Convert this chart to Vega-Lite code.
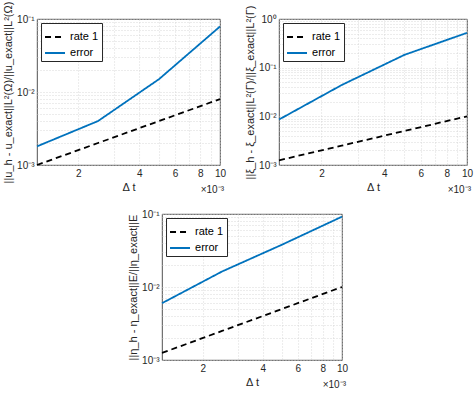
{
  "$schema": "https://vega.github.io/schema/vega-lite/v6.json",
  "padding": {"left": 2, "top": 0, "right": 4, "bottom": 0},
  "data": {"values": [
    {"panel": 1, "series": "rate 1", "dt": 1.25, "err": 0.001},
    {"panel": 1, "series": "rate 1", "dt": 2.5, "err": 0.002},
    {"panel": 1, "series": "rate 1", "dt": 5, "err": 0.004},
    {"panel": 1, "series": "rate 1", "dt": 10, "err": 0.008},
    {"panel": 1, "series": "error", "dt": 1.25, "err": 0.0018},
    {"panel": 1, "series": "error", "dt": 2.5, "err": 0.004},
    {"panel": 1, "series": "error", "dt": 5, "err": 0.015},
    {"panel": 1, "series": "error", "dt": 10, "err": 0.079},
    {"panel": 2, "series": "rate 1", "dt": 1.25, "err": 0.00125},
    {"panel": 2, "series": "rate 1", "dt": 2.5, "err": 0.0025},
    {"panel": 2, "series": "rate 1", "dt": 5, "err": 0.005},
    {"panel": 2, "series": "rate 1", "dt": 10, "err": 0.01},
    {"panel": 2, "series": "error", "dt": 1.25, "err": 0.0086},
    {"panel": 2, "series": "error", "dt": 2.5, "err": 0.044},
    {"panel": 2, "series": "error", "dt": 5, "err": 0.183},
    {"panel": 2, "series": "error", "dt": 10, "err": 0.52},
    {"panel": 3, "series": "rate 1", "dt": 1.25, "err": 0.00125},
    {"panel": 3, "series": "rate 1", "dt": 2.5, "err": 0.0025},
    {"panel": 3, "series": "rate 1", "dt": 5, "err": 0.005},
    {"panel": 3, "series": "rate 1", "dt": 10, "err": 0.01},
    {"panel": 3, "series": "error", "dt": 1.25, "err": 0.006},
    {"panel": 3, "series": "error", "dt": 2.5, "err": 0.0163},
    {"panel": 3, "series": "error", "dt": 5, "err": 0.038},
    {"panel": 3, "series": "error", "dt": 10, "err": 0.092}
  ]},
  "vconcat": [
    {
      "hconcat": [
        {
          "width": 183, "height": 146,
          "layer": [
            {
              "transform": [{"filter": "datum.panel == 1"}],
              "mark": {"type": "line", "strokeWidth": 1.8},
              "encoding": {
                "x": {"field": "dt", "type": "quantitative", "scale": {"type": "log", "domain": [1.25, 10], "nice": false},
                      "axis": {"title": "Δ t", "values": [2,3,4,5,6,7,8,9,10], "labelExpr": "datum.value % 2 == 0 ? datum.value : ''"}},
                "y": {"field": "err", "type": "quantitative", "scale": {"type": "log", "domain": [0.001, 0.1], "nice": false},
                      "axis": {"title": "||u_h - u_exact||L²(Ω)/||u_exact||L²(Ω)",
                               "values": [0.001,0.002,0.003,0.004,0.005,0.006,0.007,0.008,0.009,0.01,0.02,0.03,0.04,0.05,0.06,0.07,0.08,0.09,0.1],
                               "labelExpr": "datum.value == 0.001 ? '10⁻³' : datum.value == 0.01 ? '10⁻²' : datum.value == 0.1 ? '10⁻¹' : datum.value == 1 ? '10⁰' : ''"}},
                "color": {"field": "series", "type": "nominal", "scale": {"domain": ["rate 1", "error"], "range": ["#000000", "#0072BD"]}, "legend": {"title": null}},
                "strokeDash": {"field": "series", "type": "nominal", "scale": {"domain": ["rate 1", "error"], "range": [[6, 4], [1, 0]]}, "legend": {"title": null}}
              }
            },
            {
              "data": {"values": [{"label": "×10⁻³"}]},
              "mark": {"type": "text", "align": "right", "baseline": "middle", "dy": 25, "dx": 4, "fontSize": 10, "color": "#262626"},
              "encoding": {"x": {"datum": 10}, "y": {"datum": 0.001}, "text": {"field": "label"}}
            }
          ]
        },
        {
          "width": 188, "height": 146,
          "layer": [
            {
              "transform": [{"filter": "datum.panel == 2"}],
              "mark": {"type": "line", "strokeWidth": 1.8},
              "encoding": {
                "x": {"field": "dt", "type": "quantitative", "scale": {"type": "log", "domain": [1.25, 10], "nice": false},
                      "axis": {"title": "Δ t", "values": [2,3,4,5,6,7,8,9,10], "labelExpr": "datum.value % 2 == 0 ? datum.value : ''"}},
                "y": {"field": "err", "type": "quantitative", "scale": {"type": "log", "domain": [0.001, 1], "nice": false},
                      "axis": {"title": "||ξ_h - ξ_exact||L²(Γ)/||ξ_exact||L²(Γ)",
                               "values": [0.001,0.002,0.003,0.004,0.005,0.006,0.007,0.008,0.009,0.01,0.02,0.03,0.04,0.05,0.06,0.07,0.08,0.09,0.1,0.2,0.3,0.4,0.5,0.6,0.7,0.8,0.9,1],
                               "labelExpr": "datum.value == 0.001 ? '10⁻³' : datum.value == 0.01 ? '10⁻²' : datum.value == 0.1 ? '10⁻¹' : datum.value == 1 ? '10⁰' : ''"}},
                "color": {"field": "series", "type": "nominal", "scale": {"domain": ["rate 1", "error"], "range": ["#000000", "#0072BD"]}, "legend": {"title": null}},
                "strokeDash": {"field": "series", "type": "nominal", "scale": {"domain": ["rate 1", "error"], "range": [[6, 4], [1, 0]]}, "legend": {"title": null}}
              }
            },
            {
              "data": {"values": [{"label": "×10⁻³"}]},
              "mark": {"type": "text", "align": "right", "baseline": "middle", "dy": 25, "dx": 4, "fontSize": 10, "color": "#262626"},
              "encoding": {"x": {"datum": 10}, "y": {"datum": 0.001}, "text": {"field": "label"}}
            }
          ]
        }
      ],
      "spacing": 18,
      "resolve": {"scale": {"y": "independent", "color": "independent", "strokeDash": "independent"}, "legend": {"color": "independent", "strokeDash": "independent"}}
    },
    {
      "width": 180, "height": 146,
      "layer": [
        {
          "transform": [{"filter": "datum.panel == 3"}],
          "mark": {"type": "line", "strokeWidth": 1.8},
          "encoding": {
            "x": {"field": "dt", "type": "quantitative", "scale": {"type": "log", "domain": [1.25, 10], "nice": false},
                  "axis": {"title": "Δ t", "values": [2,3,4,5,6,7,8,9,10], "labelExpr": "datum.value % 2 == 0 ? datum.value : ''"}},
            "y": {"field": "err", "type": "quantitative", "scale": {"type": "log", "domain": [0.001, 0.1], "nice": false},
                  "axis": {"title": "||η_h - η_exact||E/||η_exact||E",
                           "values": [0.001,0.002,0.003,0.004,0.005,0.006,0.007,0.008,0.009,0.01,0.02,0.03,0.04,0.05,0.06,0.07,0.08,0.09,0.1],
                           "labelExpr": "datum.value == 0.001 ? '10⁻³' : datum.value == 0.01 ? '10⁻²' : datum.value == 0.1 ? '10⁻¹' : datum.value == 1 ? '10⁰' : ''"}},
            "color": {"field": "series", "type": "nominal", "scale": {"domain": ["rate 1", "error"], "range": ["#000000", "#0072BD"]}, "legend": {"title": null}},
            "strokeDash": {"field": "series", "type": "nominal", "scale": {"domain": ["rate 1", "error"], "range": [[6, 4], [1, 0]]}, "legend": {"title": null}}
          }
        },
        {
          "data": {"values": [{"label": "×10⁻³"}]},
          "mark": {"type": "text", "align": "right", "baseline": "middle", "dy": 25, "dx": 4, "fontSize": 10, "color": "#262626"},
          "encoding": {"x": {"datum": 10}, "y": {"datum": 0.001}, "text": {"field": "label"}}
        }
      ]
    }
  ],
  "spacing": 12,
  "center": true,
  "resolve": {"scale": {"y": "independent", "color": "independent", "strokeDash": "independent"}, "legend": {"color": "independent", "strokeDash": "independent"}},
  "config": {
    "font": "Liberation Sans",
    "view": {"stroke": "#262626", "strokeWidth": 0.8},
    "axis": {
      "labelFontSize": 10, "titleFontSize": 11, "titleFontWeight": "normal",
      "labelColor": "#262626", "titleColor": "#262626",
      "gridColor": "#cfcfcf", "gridDash": [1, 2], "gridWidth": 0.8,
      "domain": false, "ticks": false, "labelPadding": 3, "titlePadding": 3,
      "labelFlush": false, "labelOverlap": false
    },
    "legend": {
      "orient": "top-left", "offset": 4, "fillColor": "white", "strokeColor": "#262626",
      "padding": 3, "symbolType": "stroke", "symbolSize": 400, "symbolStrokeWidth": 2,
      "labelFontSize": 11, "labelColor": "#000000", "rowPadding": 0, "titlePadding": 0
    }
  }
}
